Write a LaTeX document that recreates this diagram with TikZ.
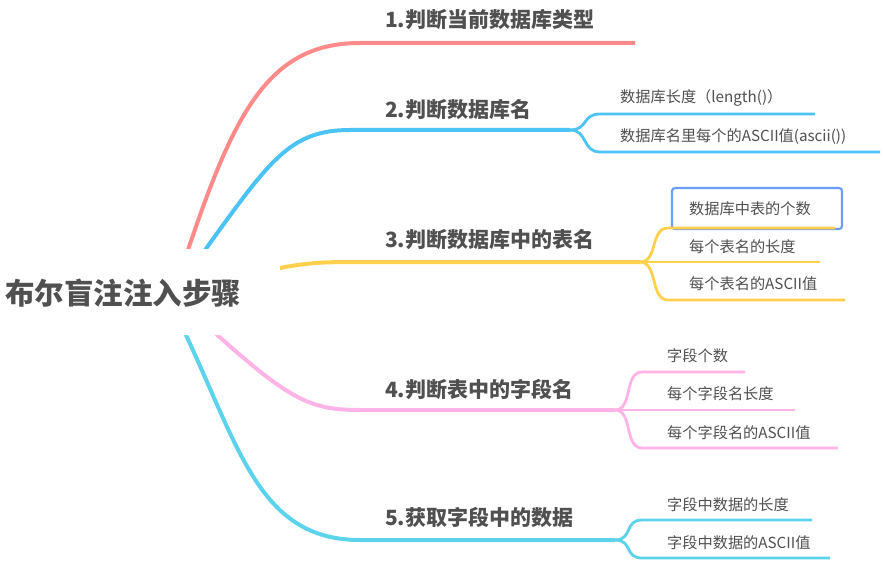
\documentclass[tikz,border=0pt]{standalone}
\usepackage{fontspec}
\usetikzlibrary{calc}
\setmainfont{Noto Sans CJK SC}
\definecolor{cr}{HTML}{FF8A8A}
\definecolor{cb}{HTML}{4BC4F5}
\definecolor{cy}{HTML}{FFD04D}
\definecolor{cp}{HTML}{FFB3E6}
\definecolor{cc}{HTML}{5BD3EA}
\definecolor{tx}{HTML}{505050}
\definecolor{sel}{HTML}{6E9BF5}
\begin{document}
\begin{tikzpicture}[x=1pt,y=-1pt,
  main/.style={line width=4pt},
  sub/.style={line width=2.8pt},
  lab/.style={anchor=west,text=tx,font=\bfseries\fontsize{21}{23}\selectfont,inner sep=0},
  slab/.style={anchor=west,text=tx,font=\fontsize{15.2}{17}\selectfont,inner sep=0}]
\useasboundingbox (0,0) rectangle (885,572);
\fill[white] (0,0) rectangle (885,572);
\coordinate (s1) at (188,250); \coordinate (e1) at (360,43); \coordinate (f1) at (635,43);
\coordinate (s2) at (205,250); \coordinate (e2) at (350,130); \coordinate (f2) at (570,130);
\coordinate (s3) at (280,268); \coordinate (e3) at (360,262); \coordinate (f3) at (640,262);
\coordinate (s4) at (215,333); \coordinate (e4) at (360,410); \coordinate (f4) at (615,410);
\coordinate (s5) at (185,333); \coordinate (e5) at (360,540); \coordinate (f5) at (615,540);
\draw[main,cr] (s1) .. controls (235,110) and (270,43) .. (e1) -- (f1);
\draw[main,cb] (s2) .. controls (270,160) and (290,130) .. (e2) -- (f2);
\draw[main,cy] (s3) .. controls (310,262) and (330,262) .. (e3) -- (f3);
\draw[main,cp] (s4) .. controls (290,400) and (310,410) .. (e4) -- (f4);
\draw[main,cc] (s5) .. controls (240,450) and (260,540) .. (e5) -- (f5);
\node[fill=white,rounded corners=28pt,minimum width=290pt,minimum height=86pt,anchor=west] (rb) at (-10,292) {};
\node[anchor=west,text=tx,font=\bfseries\fontsize{29.5}{32}\selectfont,inner sep=0] (root) at (5,293) {布尔盲注注入步骤};
\node[lab] (l1) at (385,20) {1.判断当前数据库类型};
\node[lab] (l2) at (385,110) {2.判断数据库名};
\node[lab] (l3) at (385,240) {3.判断数据库中的表名};
\node[lab] (l4) at (385,389) {4.判断表中的字段名};
\node[lab] (l5) at (385,517) {5.获取字段中的数据};
\newcommand\subb[4]{\draw[sub,#1] (#2) .. controls ($(#2)+(18,0)$) and ($(#3)+(-18,0)$) .. (#3) -- (#4);}
\coordinate (a1) at (600,114); \coordinate (a1e) at (815,114);
\coordinate (a2) at (600,152); \coordinate (a2e) at (880,152);
\coordinate (b1) at (668,228); \coordinate (b1e) at (835,228);
\coordinate (b2) at (668,262); \coordinate (b2e) at (820,262);
\coordinate (b3) at (668,300); \coordinate (b3e) at (845,300);
\coordinate (c1) at (642,372); \coordinate (c1e) at (745,372);
\coordinate (c2) at (642,410); \coordinate (c2e) at (795,410);
\coordinate (c3) at (642,448); \coordinate (c3e) at (838,448);
\coordinate (d1) at (642,520); \coordinate (d1e) at (812,520);
\coordinate (d2) at (642,558); \coordinate (d2e) at (830,558);
\subb{cb}{f2}{a1}{a1e} \subb{cb}{f2}{a2}{a2e}
\subb{cy}{f3}{b2}{b2e} \subb{cy}{f3}{b3}{b3e}
\subb{cp}{f4}{c1}{c1e} \subb{cp}{f4}{c2}{c2e} \subb{cp}{f4}{c3}{c3e}
\subb{cc}{f5}{d1}{d1e} \subb{cc}{f5}{d2}{d2e}
\node[slab] (ta1) at (620,98) {数据库长度（length()）};
\node[slab] (ta2) at (620,137) {数据库名里每个的ASCII值(ascii())};
\node[slab] (tb1) at (689,209) {数据库中表的个数};
\draw[sel,line width=2.2pt,rounded corners=3pt] (672,188) rectangle (842,229);
\subb{cy}{f3}{b1}{b1e}
\node[slab] (tb2) at (689,247) {每个表名的长度};
\node[slab] (tb3) at (689,284) {每个表名的ASCII值};
\node[slab] (tc1) at (667,356) {字段个数};
\node[slab] (tc2) at (667,394) {每个字段名长度};
\node[slab] (tc3) at (667,433) {每个字段名的ASCII值};
\node[slab] (td1) at (667,505) {字段中数据的长度};
\node[slab] (td2) at (667,543) {字段中数据的ASCII值};
\end{tikzpicture}
\end{document}
